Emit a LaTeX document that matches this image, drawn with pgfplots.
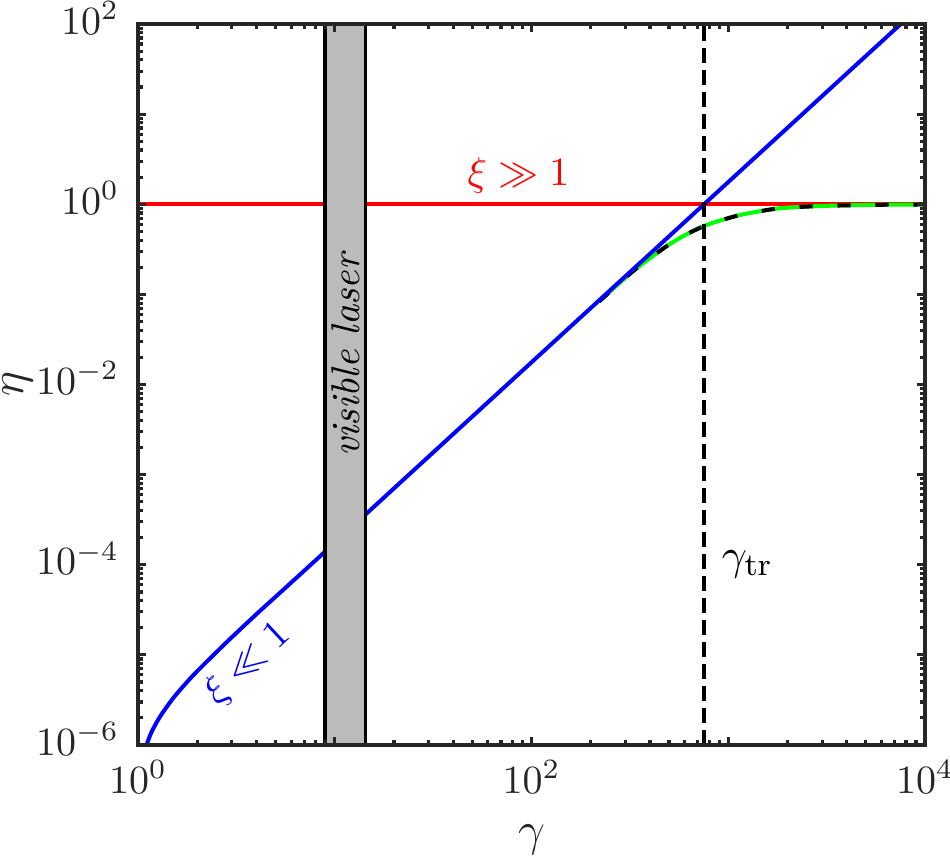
\documentclass[border=0pt]{standalone}
\usepackage{pgfplots}
\pgfplotsset{compat=1.18}
\definecolor{axisgray}{rgb}{0.15,0.15,0.15}
\definecolor{barfill}{RGB}{187,187,187}
\definecolor{pureblue}{rgb}{0,0,1}
\definecolor{purered}{rgb}{1,0,0}
\definecolor{puregreen}{rgb}{0,1,0}
\begin{document}
\begin{tikzpicture}
\begin{axis}[
  xmode=log, ymode=log,
  scale only axis,
  width=196.75pt, height=180.25pt,
  xmin=1, xmax=10000, ymin=1e-6, ymax=100,
  axis on top,
  axis line style={axisgray, line width=0.9pt},
  every tick/.style={axisgray, line width=0.8pt},
  tick align=inside,
  major tick length=2pt, minor tick length=1.3pt,
  xtick={1,10,100,1000,10000},
  xticklabels={$10^{0}$,,$10^{2}$,,$10^{4}$},
  minor xtick={2,3,4,5,6,7,8,9,20,30,40,50,60,70,80,90,200,300,400,500,600,700,800,900,2000,3000,4000,5000,6000,7000,8000,9000},
  ytick={1e-6,1e-5,1e-4,1e-3,1e-2,1e-1,1,10,100},
  yticklabels={$10^{-6}$,,$10^{-4}$,,$10^{-2}$,,$10^{0}$,,$10^{2}$},
  minor ytick={2e-6,3e-6,4e-6,5e-6,6e-6,7e-6,8e-6,9e-6,
    2e-5,3e-5,4e-5,5e-5,6e-5,7e-5,8e-5,9e-5,
    2e-4,3e-4,4e-4,5e-4,6e-4,7e-4,8e-4,9e-4,
    2e-3,3e-3,4e-3,5e-3,6e-3,7e-3,8e-3,9e-3,
    0.02,0.03,0.04,0.05,0.06,0.07,0.08,0.09,
    0.2,0.3,0.4,0.5,0.6,0.7,0.8,0.9,
    2,3,4,5,6,7,8,9,
    20,30,40,50,60,70,80,90},
  tick label style={color=axisgray, font=\normalsize},
  xticklabel style={anchor=base, yshift=-12.1pt},
  yticklabel style={anchor=base east, xshift=-1.2pt, yshift=-2.5pt},
  xlabel={$\gamma$}, ylabel={$\eta$},
  label style={font=\large, color=axisgray},
  xlabel style={at={(axis description cs:0.5,-0.1398)}, anchor=base},
  ylabel style={at={(axis description cs:-0.1455,0.5)}, anchor=base},
]
% red: xi >> 1
\addplot[purered, line width=1pt] coordinates {(1,1) (10000,1)};
% green + black dashed transition curve
\addplot[puregreen, line width=1pt, smooth] coordinates {
  (220,0.083) (250,0.107) (290,0.143) (329,0.182) (400,0.252) (490,0.347)
  (600,0.452) (753,0.574) (900,0.655) (1147,0.760) (1500,0.848) (1832,0.903)
  (2500,0.942) (3404,0.965) (5000,0.982) (7000,0.990) (10000,0.995)};
\addplot[black, line width=1pt, smooth, dash pattern=on 3.3pt off 6.2pt] coordinates {
  (220,0.083) (250,0.107) (290,0.143) (329,0.182) (400,0.252) (490,0.347)
  (600,0.452) (753,0.574) (900,0.655) (1147,0.760) (1500,0.848) (1832,0.903)
  (2500,0.942) (3404,0.965) (5000,0.982) (7000,0.990) (10000,0.995)};
% blue: xi << 1
\addplot[pureblue, line width=1pt, smooth] coordinates {
  (1.09,9.2e-7) (1.1,9.78e-7) (1.15,1.267e-6) (1.2,1.544e-6) (1.3,2.096e-6)
  (1.5,3.254e-6) (1.75,4.83e-6) (2,6.6e-6) (2.5,1.07e-5) (3,1.572e-5)
  (4,2.832e-5) (5,4.41e-5) (7,8.6e-5) (10,1.755e-4) (20,7.046e-4)
  (100,1.7636e-2) (1000,1.7636) (10000,176.36)};
% visible laser band
\addplot[fill=barfill, draw=black, line width=0.8pt] coordinates {
  (8.92,1e-6) (14.37,1e-6) (14.37,100) (8.92,100)} -- cycle;
% gamma_tr
\addplot[black, line width=0.85pt, dash pattern=on 3.7pt off 1.8pt] coordinates {(753,1e-6) (753,100)};
\node[rotate=90, inner sep=0pt] at (axis cs:11.32,0.0218) {\textit{visible laser}};
\node[text=purered, inner sep=0pt] at (axis cs:85.9,2.08) {$\xi \gg 1$};
\node[text=pureblue, rotate=43, inner sep=0pt] at (axis cs:3.62,7.93e-6) {$\xi \ll 1$};
\node[anchor=base west, inner sep=0pt, font=\fontsize{11}{13}\selectfont] at (axis cs:919,8.97e-5) {$\gamma_{\mathrm{tr}}$};
\end{axis}
\pgfresetboundingbox
\useasboundingbox ([xshift=-34.5pt,yshift=-28.25pt]current axis.south west) rectangle ([xshift=6.25pt,yshift=6pt]current axis.north east);
\end{tikzpicture}
\end{document}
